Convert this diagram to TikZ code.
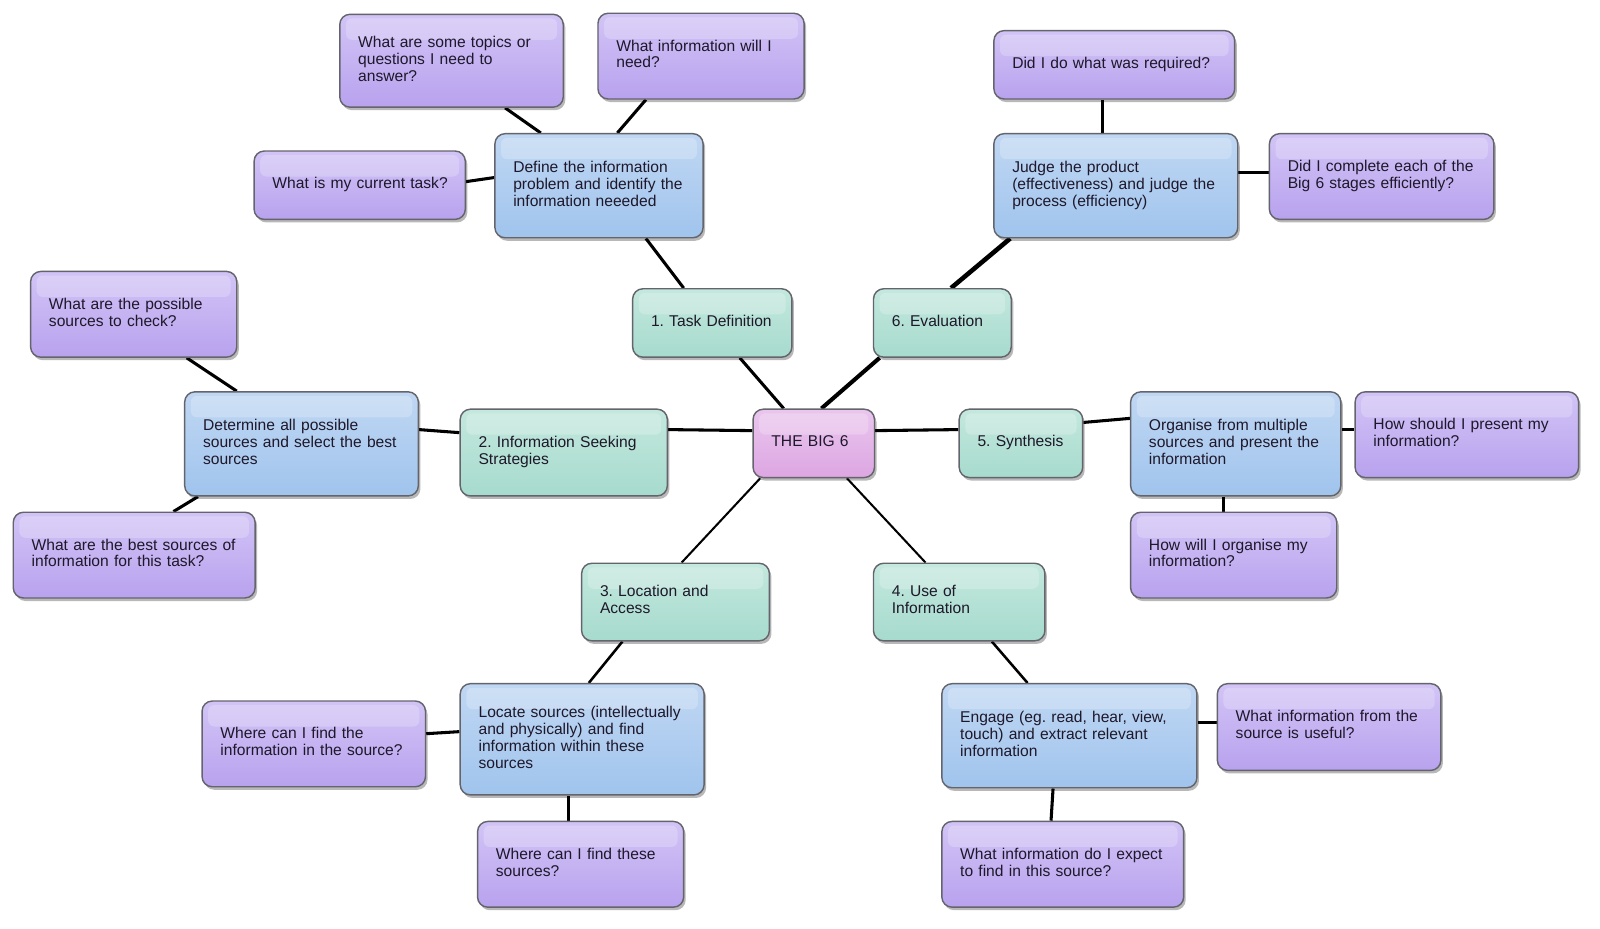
\documentclass[tikz,border=0pt]{standalone}
\usepackage{fontspec}
\setmainfont{Liberation Sans}
\frenchspacing
\usetikzlibrary{shadows,backgrounds}
\definecolor{txt}{RGB}{30,24,42}
\definecolor{edge}{RGB}{100,100,108}
\definecolor{qbs}{RGB}{184,162,238}
\definecolor{qlt}{RGB}{210,196,246}
\definecolor{bbs}{RGB}{160,196,237}
\definecolor{blt}{RGB}{192,215,243}
\definecolor{gbs}{RGB}{166,219,205}
\definecolor{glt}{RGB}{196,232,222}
\definecolor{pbs}{RGB}{220,166,226}
\definecolor{plt}{RGB}{234,198,238}
\newcommand\mylines[1]{\begin{tabular}{@{}l@{}}#1\end{tabular}}
\tikzset{
  gloss/.style={rounded corners=10pt, draw=edge, line width=1.4pt, text=txt,
    inner xsep=0pt, inner ysep=0pt, align=left,
    font=\fontsize{15.3}{16.6}\selectfont,
    drop shadow={shadow xshift=2pt, shadow yshift=-3pt, opacity=0.28, fill=black},
    path picture={\fill[white,opacity=0.22,rounded corners=6pt]
      ([xshift=6pt,yshift=-4pt]path picture bounding box.north west) rectangle
      ([xshift=-6pt,yshift=-25pt]path picture bounding box.north east);}},
  qbox/.style={gloss, top color=qlt, bottom color=qbs},
  bbox/.style={gloss, top color=blt, bottom color=bbs},
  gbox/.style={gloss, top color=glt, bottom color=gbs},
  pbox/.style={gloss, top color=plt, bottom color=pbs},
  sz/.code 2 args={\pgfmathsetmacro\mytw{#1-36}%
    \edef\mytmp{\noexpand\pgfkeysalso{minimum width=#1pt, minimum height=#2pt, text width=\mytw pt}}\mytmp},
  conn/.style={draw=black, line width=3pt},
  thinconn/.style={draw=black, line width=2pt},
  thickconn/.style={draw=black, line width=4.5pt},
}
\begin{document}
\begin{tikzpicture}[x=1pt,y=-1pt]
\useasboundingbox (0,0) rectangle (1568,910.4);
\begin{scope}[on background layer]
\fill[white] (0,0) rectangle (1568,910.4);
\end{scope}
% top-left cluster
\node[qbox, sz={219}{91}] (topics) at (442.5,59.5) {\mylines{What are some topics or\\questions I need to\\answer?}};
\node[qbox, sz={202}{84}] (need) at (687,55) {\mylines{What information will I\\need?}};
\node[qbox, sz={207}{67}] (cur) at (352.5,181.5) {\mylines{What is my current task?}};
\node[bbox, sz={204}{102}] (def) at (587,182) {\mylines{Define the information\\problem and identify the\\information neeeded}};
% top-right cluster
\node[qbox, sz={236}{67}] (did) at (1092,63.5) {\mylines{Did I do what was required?}};
\node[bbox, sz={239}{102}] (judge) at (1093.5,182) {\mylines{Judge the product\\(effectiveness) and judge the\\process (efficiency)}};
\node[qbox, sz={220}{84}] (comp) at (1354,173) {\mylines{Did I complete each of the\\Big 6 stages efficiently?}};
% stages
\node[gbox, sz={156}{67}] (td) at (698,316.5) {\mylines{1. Task Definition}};
\node[gbox, sz={135}{67}] (ev) at (923.5,316.5) {\mylines{6. Evaluation}};
\node[gbox, sz={203}{85}] (iss) at (552.5,443.5) {\mylines{2. Information Seeking\\Strategies}};
\node[pbox, sz={119}{67}] (big) at (797.5,434.5) {\mylines{THE BIG 6}};
\node[gbox, sz={121}{67}] (syn) at (1000.5,434.5) {\mylines{5. Synthesis}};
\node[gbox, sz={184}{76}] (la) at (662,590) {\mylines{3. Location and\\Access}};
\node[gbox, sz={168}{76}] (use) at (940,590) {\mylines{4. Use of\\Information}};
% left cluster
\node[qbox, sz={202}{84}] (poss) at (131,308) {\mylines{What are the possible\\sources to check?}};
\node[bbox, sz={229}{102}] (det) at (295.5,435) {\mylines{Determine all possible\\sources and select the best\\sources}};
\node[qbox, sz={237}{84}] (best) at (131.5,544) {\mylines{What are the best sources of\\information for this task?}};
% right cluster
\node[bbox, sz={206}{102}] (org) at (1211,435) {\mylines{Organise from multiple\\sources and present the\\information}};
\node[qbox, sz={219}{84}] (pres) at (1437.5,426) {\mylines{How should I present my\\information?}};
\node[qbox, sz={202}{84}] (howorg) at (1209,544) {\mylines{How will I organise my\\information?}};
% bottom-left cluster
\node[bbox, sz={239}{109}] (locate) at (570.5,724.5) {\mylines{Locate sources (intellectually\\and physically) and find\\information within these\\sources}};
\node[qbox, sz={219}{84}] (whsrc) at (307.5,729) {\mylines{Where can I find the\\information in the source?}};
\node[qbox, sz={202}{84}] (whthese) at (569,847) {\mylines{Where can I find these\\sources?}};
% bottom-right cluster
\node[bbox, sz={250}{102}] (engage) at (1048,721) {\mylines{Engage (eg. read, hear, view,\\touch) and extract relevant\\information}};
\node[qbox, sz={219}{85}] (useful) at (1302.5,712.5) {\mylines{What information from the\\source is useful?}};
\node[qbox, sz={237}{84}] (expect) at (1041.5,847) {\mylines{What information do I expect\\to find in this source?}};
% connectors
\begin{scope}[on background layer]
\draw[conn] ([xshift=-57pt]def.north) -- ([xshift=52.5pt]topics.south);
\draw[conn] ([xshift=18pt]def.north) -- ([xshift=-54pt]need.south);
\draw[conn] ([yshift=8pt]def.west) -- ([yshift=3.5pt]cur.east);
\draw[conn] ([xshift=46pt]def.south) -- ([xshift=-28pt]td.north);
\draw[conn] ([xshift=27pt]td.south) -- ([xshift=-29.5pt]big.north);
\draw[conn, line width=4pt] ([xshift=-61.5pt]ev.south) -- ([xshift=7.5pt]big.north);
\draw[thickconn] ([xshift=8.5pt]ev.north) -- ([xshift=-103.5pt]judge.south);
\draw[conn] ([xshift=-13.5pt]judge.north) -- ([xshift=-12pt]did.south);
\draw[conn] ([yshift=13pt]judge.east) -- ([yshift=4pt]comp.west);
\draw[conn] ([yshift=12.5pt]big.west) -- ([yshift=22.5pt]iss.east);
\draw[conn] ([yshift=19.5pt]iss.west) -- ([yshift=14pt]det.east);
\draw[conn] ([xshift=-63.5pt]det.north) -- ([xshift=52pt]poss.south);
\draw[conn] ([xshift=-101.5pt]det.south) -- ([xshift=38.5pt]best.north);
\draw[conn] ([yshift=12.5pt]big.east) -- ([yshift=13.5pt]syn.west);
\draw[conn] ([yshift=20.5pt]syn.east) -- ([yshift=25pt]org.west);
\draw[conn] ([yshift=14pt]org.east) -- ([yshift=5pt]pres.west);
\draw[conn] ([xshift=-12pt]org.south) -- ([xshift=-10pt]howorg.north);
\draw[thinconn] ([xshift=-52.5pt]big.south) -- ([xshift=6pt]la.north);
\draw[thinconn] ([xshift=32.5pt]big.south) -- ([xshift=-33pt]use.north);
\draw[conn, line width=2.5pt] ([xshift=-52pt]la.south) -- ([xshift=6.5pt]locate.north);
\draw[conn] ([yshift=7.5pt]locate.west) -- ([yshift=10pt]whsrc.east);
\draw[conn] ([xshift=-13.5pt]locate.south) -- ([xshift=-12pt]whthese.north);
\draw[conn, line width=2.5pt] ([xshift=32pt]use.south) -- ([xshift=-41pt]engage.north);
\draw[conn] ([yshift=13pt]engage.east) -- ([yshift=4.5pt]useful.west);
\draw[conn] ([xshift=-16pt]engage.south) -- ([xshift=-11.5pt]expect.north);
\end{scope}
\end{tikzpicture}
\end{document}
